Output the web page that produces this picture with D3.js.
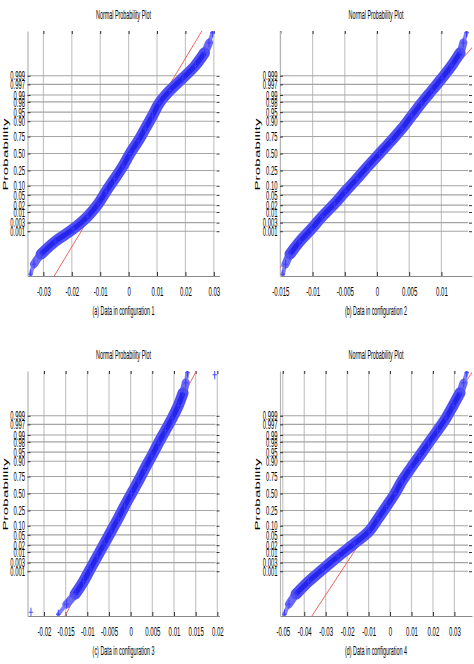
<!DOCTYPE html>
<html>
<head>
<meta charset="utf-8">
<script src="https://cdn.jsdelivr.net/npm/d3@7"></script>
<style>
body { margin: 0; background: #fff; }
text { font-family: "Liberation Sans", Arial, sans-serif; fill: #000; }
</style>
</head>
<body>
<script>
var zLevels = [-4.8, -4.4, -4, -3.5, -3, -2.5, -2, -1.5, -1, -0.5, 0, 0.5, 1, 1.5, 2, 2.5, 3, 3.5, 4, 4.4, 4.8];

// data quantiles for each configuration, one per z level
var quantA = [-0.0345, -0.0333, -0.0308, -0.0259, -0.0195, -0.0144, -0.0107, -0.0079, -0.0049, -0.0020, 0.0005, 0.0034, 0.0059, 0.0084, 0.0108, 0.0145, 0.0191, 0.0235, 0.0267, 0.0283, 0.0295];
var quantB = [-0.0146, -0.0142, -0.0135, -0.0120, -0.0102, -0.0085, -0.0066, -0.0049, -0.0031, -0.0014, 0.0004, 0.0022, 0.0039, 0.0054, 0.0069, 0.0085, 0.0101, 0.0116, 0.0129, 0.0134, 0.0139];
var quantC = [-0.0167, -0.0148, -0.0128, -0.0109, -0.0093, -0.0077, -0.0061, -0.0045, -0.0029, -0.0014, 0.0002, 0.0018, 0.0033, 0.0049, 0.0064, 0.0080, 0.0096, 0.0110, 0.0121, 0.0127, 0.0131];
var quantD = [-0.0492, -0.0471, -0.0438, -0.0380, -0.0312, -0.0242, -0.0168, -0.0098, -0.0056, -0.0016, 0.0023, 0.0056, 0.0096, 0.0138, 0.0179, 0.0221, 0.0261, 0.0294, 0.0326, 0.0343, 0.0357];

// isolated extreme points [value, z]
var outliersC = [[-0.0230, -4.72], [0.0194, 4.72]];

// red reference line: value at p = 0.25 and p = 0.75
var refA = [-0.0038, 0.0034];
var refB = [-0.0019, 0.0027];
var refC = [-0.0021, 0.0021];
var refD = [-0.0041, 0.0063];

var probTicks = [0.001, 0.003, 0.01, 0.02, 0.05, 0.10, 0.25, 0.50, 0.75, 0.90, 0.95, 0.98, 0.99, 0.997, 0.999];
var probLabels = ["0.001", "0.003", "0.01", "0.02", "0.05", "0.10", "0.25", "0.50", "0.75", "0.90", "0.95", "0.98", "0.99", "0.997", "0.999"];

var xTicksA = [-0.03, -0.02, -0.01, 0, 0.01, 0.02, 0.03];
var xTicksB = [-0.015, -0.01, -0.005, 0, 0.005, 0.01];
var xTicksC = [-0.02, -0.015, -0.01, -0.005, 0, 0.005, 0.01, 0.015, 0.02];
var xTicksD = [-0.05, -0.04, -0.03, -0.02, -0.01, 0, 0.01, 0.02, 0.03];

var captions = ["(a) Data in configuration 1", "(b) Data in configuration 2", "(c) Data in configuration 3", "(d) Data in configuration 4"];

// inverse normal cdf (Acklam)
function norminv(p) {
    var a = [-3.969683028665376e+01, 2.209460984245205e+02, -2.759285104469687e+02, 1.383577518672690e+02, -3.066479806614716e+01, 2.506628277459239e+00];
    var b = [-5.447609879822406e+01, 1.615858368580409e+02, -1.556989798598866e+02, 6.680131188771972e+01, -1.328068155288572e+01];
    var c = [-7.784894002430293e-03, -3.223964580411365e-01, -2.400758277161838e+00, -2.549732539343734e+00, 4.374664141464968e+00, 2.938163982698783e+00];
    var d = [7.784695709041462e-03, 3.224671290700398e-01, 2.445134137142996e+00, 3.754408661907416e+00];
    var q, r;
    if (p < 0.02425) {
        q = Math.sqrt(-2 * Math.log(p));
        return (((((c[0] * q + c[1]) * q + c[2]) * q + c[3]) * q + c[4]) * q + c[5]) / ((((d[0] * q + d[1]) * q + d[2]) * q + d[3]) * q + 1);
    }
    if (p > 1 - 0.02425) return -norminv(1 - p);
    q = p - 0.5; r = q * q;
    return (((((a[0] * r + a[1]) * r + a[2]) * r + a[3]) * r + a[4]) * r + a[5]) * q / (((((b[0] * r + b[1]) * r + b[2]) * r + b[3]) * r + b[4]) * r + 1);
}

var svg = d3.select("body").append("svg")
    .attr("width", 474)
    .attr("height", 664)
    .style("display", "block");

var W = 192, H = 245, SX = 0.45;
var zMax = 4.87;

var panels = [
    {left: 27.5, top: 31, domain: [-0.0356, 0.0320], ticks: xTicksA, quant: quantA, ref: refA, outliers: [], caption: captions[0]},
    {left: 280, top: 31, domain: [-0.01506, 0.01475], ticks: xTicksB, quant: quantB, ref: refB, outliers: [], caption: captions[1]},
    {left: 27.5, top: 371, domain: [-0.0238, 0.0205], ticks: xTicksC, quant: quantC, ref: refC, outliers: outliersC, caption: captions[2]},
    {left: 280, top: 371, domain: [-0.0513, 0.0382], ticks: xTicksD, quant: quantD, ref: refD, outliers: [], caption: captions[3]}
];

var fmt = function (d) { return d === 0 ? "0" : String(+d.toFixed(4)); };
var plus = "M-2.2,0H2.2M0,-4.5V4.5";

panels.forEach(function (p, k) {
    var g = svg.append("g").attr("transform", "translate(" + p.left + "," + p.top + ")");
    var x = d3.scaleLinear().domain(p.domain).range([0, W]);
    var y = d3.scaleLinear().domain([-zMax, zMax]).range([H, 0]);
    var zTicks = probTicks.map(norminv);

    g.append("clipPath").attr("id", "clip" + k)
        .append("rect").attr("width", W).attr("height", H);

    // grid
    g.append("g").selectAll("line").data(p.ticks).enter().append("line")
        .attr("x1", function (d) { return x(d); })
        .attr("x2", function (d) { return x(d); })
        .attr("y1", 0).attr("y2", H)
        .attr("stroke", "#c6c6c6").attr("stroke-width", 1.2);
    g.append("g").selectAll("line").data(zTicks).enter().append("line")
        .attr("x1", 0).attr("x2", W - 4)
        .attr("y1", function (d) { return y(d); })
        .attr("y2", function (d) { return y(d); })
        .attr("stroke", "#a4a4a4").attr("stroke-width", 1.1);

    // axes
    var bottom = g.append("g").attr("transform", "translate(0," + H + ")")
        .call(d3.axisBottom(x).tickValues(p.ticks).tickSizeInner(-4).tickSizeOuter(0).tickFormat(fmt));
    bottom.select(".domain").attr("stroke", "#8a8a8a");
    bottom.selectAll(".tick line").attr("stroke", "#333");
    bottom.selectAll("text").attr("y", 10).attr("font-size", 13.5).attr("transform", "scale(" + SX + ",1)");

    var top = g.append("g")
        .call(d3.axisTop(x).tickValues(p.ticks).tickSizeInner(-3).tickSizeOuter(0).tickFormat(""));
    top.select(".domain").remove();
    top.selectAll(".tick line").attr("stroke", "#333");

    var left = g.append("g")
        .call(d3.axisLeft(y).tickValues(zTicks).tickSizeInner(-3).tickSizeOuter(0)
            .tickFormat(function (d, i) { return probLabels[i]; }));
    left.select(".domain").attr("stroke", "#b4b4b4").attr("stroke-width", 1.2);
    left.selectAll(".tick line").attr("stroke", "#333");
    left.selectAll("text").attr("x", -2.5 / SX).attr("font-size", 13).attr("transform", "scale(" + SX + ",1)");

    var right = g.append("g").attr("transform", "translate(" + W + ",0)")
        .call(d3.axisRight(y).tickValues(zTicks).tickSizeInner(-3).tickSizeOuter(0).tickFormat(""));
    right.select(".domain").remove();
    right.selectAll(".tick line").attr("stroke", "#333");

    // red reference line through the quartiles, extended over the axes
    var zq = norminv(0.75);
    var slope = (p.ref[1] - p.ref[0]) / (2 * zq);
    var refPts = [[p.ref[0] + (-zMax + zq) * slope, -zMax], [p.ref[0] + (zMax + zq) * slope, zMax]];
    var line = d3.line().x(function (d) { return x(d[0]); }).y(function (d) { return y(d[1]); });
    g.append("path").datum(refPts)
        .attr("d", line)
        .attr("clip-path", "url(#clip" + k + ")")
        .attr("fill", "none").attr("stroke", "#f06464").attr("stroke-width", 1);

    // data band
    var pts = zLevels.map(function (z, i) { return [p.quant[i], z]; });
    var curve = d3.line().x(function (d) { return x(d[0]); }).y(function (d) { return y(d[1]); })
        .curve(d3.curveCatmullRom);
    var band = g.append("g").attr("clip-path", "url(#clip" + k + ")");
    band.append("path").datum(pts).attr("d", curve)
        .attr("fill", "none").attr("stroke", "#8080f8").attr("stroke-width", 4).attr("stroke-linecap", "round");
    band.append("path").datum(pts.slice(1, -1)).attr("d", curve)
        .attr("fill", "none").attr("stroke", "#6a6af6").attr("stroke-width", 8).attr("stroke-linecap", "round");
    band.append("path").datum(pts.slice(2, -2)).attr("d", curve)
        .attr("fill", "none").attr("stroke", "#5050f4").attr("stroke-width", 11).attr("stroke-linecap", "round");
    band.append("path").datum(pts.slice(2, -2)).attr("d", curve)
        .attr("fill", "none").attr("stroke", "#2424ec").attr("stroke-width", 5);
    band.selectAll(".pt").data(pts.concat(p.outliers)).enter().append("path")
        .attr("class", "pt")
        .attr("transform", function (d) { return "translate(" + x(d[0]) + "," + y(d[1]) + ")"; })
        .attr("d", plus)
        .attr("fill", "none").attr("stroke", "#3a3aff").attr("stroke-width", 0.9);

    // titles and labels
    g.append("text")
        .attr("transform", "translate(" + (W / 2) + ",-12.5) scale(" + SX + ",1)")
        .attr("text-anchor", "middle").attr("font-size", 12)
        .text("Normal Probability Plot");
    g.append("text")
        .attr("transform", "translate(" + (W / 2) + "," + (H + 39) + ") scale(" + SX + ",1)")
        .attr("text-anchor", "middle").attr("font-size", 12)
        .text(p.caption);
    g.append("text")
        .attr("transform", "translate(-20," + (H / 2 + 1) + ") scale(" + SX + ",1) rotate(-90)")
        .attr("text-anchor", "middle").attr("font-size", 15).attr("letter-spacing", 0.2)
        .text("Probability");
});
</script>
</body>
</html>
